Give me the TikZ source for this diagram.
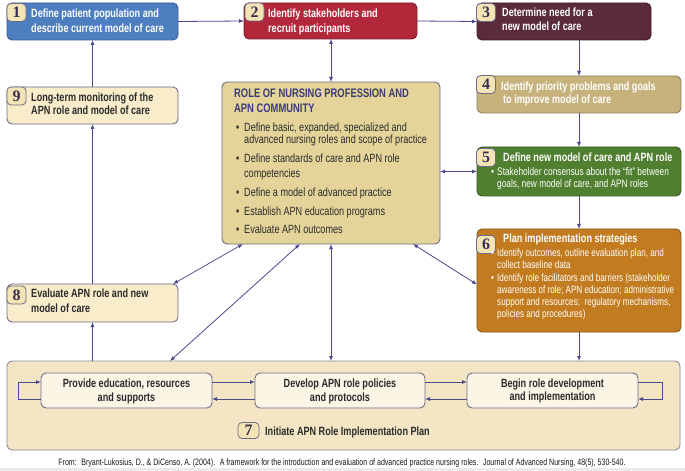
\documentclass[tikz,border=0pt]{standalone}
\usepackage{fontspec}
\setmainfont{Liberation Sans}[FakeStretch=0.76]
\newfontfamily\numfont{Liberation Serif}
\usetikzlibrary{arrows.meta}
\definecolor{cBlue}{HTML}{4D7EBF}
\definecolor{cBlueD}{HTML}{3A5C98}
\definecolor{cRed}{HTML}{B2283A}
\definecolor{cRedD}{HTML}{7E1A28}
\definecolor{cMar}{HTML}{5A2B3B}
\definecolor{cMarD}{HTML}{3E1C28}
\definecolor{cTan}{HTML}{C8B27C}
\definecolor{cTanD}{HTML}{8E7E5A}
\definecolor{cGrn}{HTML}{4F7F2F}
\definecolor{cGrnD}{HTML}{36591F}
\definecolor{cOrg}{HTML}{C27B1F}
\definecolor{cOrgD}{HTML}{8A5614}
\definecolor{cCream}{HTML}{F8ECCB}
\definecolor{cCen}{HTML}{E4D49A}
\definecolor{cBig}{HTML}{F4E6C4}
\definecolor{cInner}{HTML}{FBF5E6}
\definecolor{cEdge}{HTML}{6E6A88}
\definecolor{cArr}{HTML}{4A4A8C}
\definecolor{cBadge}{HTML}{F2E4B4}
\definecolor{cNum}{HTML}{3A2E50}
\definecolor{cTitle}{HTML}{3B3B78}
\definecolor{cTxt}{HTML}{2B2B2B}
\tikzset{
  bx/.style={rounded corners=5bp, line width=0.9bp, inner sep=0pt, outer sep=0pt, anchor=north west},
  nb/.style={rounded corners=4bp, fill=cBadge, draw=cEdge, line width=0.8bp, minimum width=19bp, minimum height=18bp, inner sep=0pt, font=\numfont\bfseries\fontsize{16}{16}\selectfont, text=cNum},
  arr/.style={draw=cArr, line width=0.8bp, -{Latex[length=5bp,width=4bp]}},
  darr/.style={draw=cArr, line width=0.8bp, {Latex[length=5bp,width=4bp]}-{Latex[length=5bp,width=4bp]}},
  wt/.style={anchor=base west, inner sep=0pt, font=\bfseries\fontsize{12}{14}\selectfont, text=white},
  dt/.style={anchor=base west, inner sep=0pt, font=\bfseries\fontsize{12}{14}\selectfont, text=cTxt},
  ct/.style={anchor=base, inner sep=0pt, font=\bfseries\fontsize{12}{14}\selectfont, text=cTxt},
  wb/.style={anchor=base west, inner sep=0pt, font=\fontsize{10.7}{12}\selectfont, text=white},
  cb/.style={anchor=base west, inner sep=0pt, font=\fontsize{12}{14}\selectfont, text=cTxt},
  ttl/.style={anchor=base west, inner sep=0pt, font=\bfseries\fontsize{12.4}{14}\selectfont, text=cTitle},
}
\begin{document}
\begin{tikzpicture}[x=1bp,y=-1bp]
\fill[white] (0,0) rectangle (685,471);
\fill[black!8] (0,468) rectangle (685,471);
\useasboundingbox (0,0) rectangle (685,471);
% boxes
\node[bx, fill=cBlue, draw=cBlueD, minimum width=171bp, minimum height=37bp] (b1) at (7,3) {};
\node[bx, fill=cRed, draw=cRedD, minimum width=173bp, minimum height=36bp] (b2) at (244,3) {};
\node[bx, fill=cMar, draw=cMarD, minimum width=174bp, minimum height=37bp] (b3) at (477,3) {};
\node[bx, fill=cTan, draw=cTanD, minimum width=204bp, minimum height=37bp] (b4) at (477,76) {};
\node[bx, fill=cGrn, draw=cGrnD, minimum width=204bp, minimum height=49bp] (b5) at (477,147) {};
\node[bx, fill=cOrg, draw=cOrgD, minimum width=204bp, minimum height=103bp] (b6) at (477,229) {};
\node[bx, fill=cCream, draw=cEdge, minimum width=171bp, minimum height=37bp] (b9) at (7,87) {};
\node[bx, fill=cCream, draw=cEdge, minimum width=171bp, minimum height=38bp] (b8) at (7,284) {};
\node[bx, fill=cCen, draw=cEdge, minimum width=218bp, minimum height=162bp] (cen) at (222,82) {};
\node[bx, fill=cBig, draw=cEdge!80, minimum width=673bp, minimum height=89bp] (big) at (7,361) {};
\node[bx, fill=cInner, draw=cEdge, minimum width=171bp, minimum height=35bp] (pr) at (41,373) {};
\node[bx, fill=cInner, draw=cEdge, minimum width=170bp, minimum height=35bp] (dv) at (255,373) {};
\node[bx, fill=cInner, draw=cEdge, minimum width=171bp, minimum height=35bp] (bg) at (467,373) {};
% badges
\node[nb] (n1) at (16.5,12.5) {1};
\node[nb] (n2) at (254.5,12) {2};
\node[nb] (n3) at (486,12.5) {3};
\node[nb] (n4) at (486,84.5) {4};
\node[nb] (n5) at (486,157.5) {5};
\node[nb] (n6) at (486,244.5) {6};
\node[nb] (n9) at (16.5,96) {9};
\node[nb] (n8) at (16.5,295) {8};
\node[nb, minimum width=21bp, minimum height=16bp] (n7) at (248.5,430.5) {7};
% texts
\node[wt] (t1a) at (31,18) {Define patient population and};
\node[wt] (t1b) at (31,33) {describe current model of care};
\node[wt] (t2a) at (268,18) {Identify stakeholders and};
\node[wt] (t2b) at (268,33) {recruit participants};
\node[wt] (t3a) at (502,17) {Determine need for a};
\node[wt] (t3b) at (502,31) {new model of care};
\node[wt] (t4a) at (501,91) {Identify priority problems and goals};
\node[wt] (t4b) at (503,104) {to improve model of care};
\node[wt] (t5) at (503,162) {Define new model of care and APN role};
\node[wb, font=\fontsize{11}{12}\selectfont] (t5b) at (491,176) {\textbullet};
\node[wb, font=\fontsize{11}{12}\selectfont] (t5c) at (497,176) {Stakeholder consensus about the “fit” between};
\node[wb, font=\fontsize{11}{12}\selectfont] (t5d) at (497,187.5) {goals, new model of care, and APN roles};
\node[wt] (t6) at (503,243) {Plan implementation strategies};
\node[wb] (t6a) at (491,257) {\textbullet};
\node[wb] (t6b) at (497,257) {Identify outcomes, outline evaluation plan, and};
\node[wb] (t6c) at (497,269) {collect baseline data};
\node[wb] (t6d) at (491,282) {\textbullet};
\node[wb] (t6e) at (497,282) {Identify role facilitators and barriers (stakeholder};
\node[wb] (t6f) at (497,294) {awareness of role; APN education; administrative};
\node[wb] (t6g) at (497,306) {support and resources;~ regulatory mechanisms,};
\node[wb] (t6h) at (497,318) {policies and procedures)};
\node[dt] (t9a) at (31,102) {Long-term monitoring of the};
\node[dt] (t9b) at (31,115) {APN role and model of care};
\node[dt] (t8a) at (31,298) {Evaluate APN role and new};
\node[dt] (t8b) at (31,313) {model of care};
\node[ttl] (tca) at (234,98) {ROLE OF NURSING PROFESSION AND};
\node[ttl] (tcb) at (234,113) {APN COMMUNITY};
\node[cb] (cb1) at (236,132) {\textbullet};
\node[cb] (cc1) at (244,132) {Define basic, expanded, specialized and};
\node[cb] (cc2) at (244,144) {advanced nursing roles and scope of practice};
\node[cb] (cb2) at (236,163) {\textbullet};
\node[cb] (cc3) at (244,163) {Define standards of care and APN role};
\node[cb] (cc4) at (244,178) {competencies};
\node[cb] (cb3) at (236,197) {\textbullet};
\node[cb] (cc5) at (244,197) {Define a model of advanced practice};
\node[cb] (cb4) at (236,216) {\textbullet};
\node[cb] (cc6) at (244,216) {Establish APN education programs};
\node[cb] (cb5) at (236,234) {\textbullet};
\node[cb] (cc7) at (244,234) {Evaluate APN outcomes};
\node[ct] (tpa) at (pr.center |- 0,387) {Provide education, resources};
\node[ct] (tpb) at (pr.center |- 0,401) {and supports};
\node[ct] (tda) at (dv.center |- 0,387) {Develop APN role policies};
\node[ct] (tdb) at (dv.center |- 0,401) {and protocols};
\node[ct] (tba) at (bg.center |- 0,387) {Begin role development};
\node[ct] (tbb) at (bg.center |- 0,400) {and implementation};
\node[dt] (t7) at (265,435) {Initiate APN Role Implementation Plan};
\node[anchor=base, inner sep=0pt, font=\fontsize{9.3}{10}\selectfont, text=black!90] (cap) at (342,465) {From:~ Bryant-Lukosius, D., \& DiCenso, A. (2004).~ A framework for the introduction and evaluation of advanced practice nursing roles.~ Journal of Advanced Nursing, 48(5), 530-540.};
% connectors
\draw[arr] (b1.east) -- (b2.west);
\draw[arr] (b2.east) -- (b3.west);
\draw[arr] (b4.north |- b3.south) -- (b4.north);
\draw[arr] (b4.south) -- (b5.north);
\draw[arr] (b5.south) -- (b6.north);
\draw[arr] (b6.south) -- (b6.south |- big.north);
\draw[darr] (b2.south -| cen.north) -- (cen.north);
\draw[darr] (cen.east |- b5.west) -- (b5.west);
\draw[darr] ([xshift=-27bp]cen.south east) -- ([yshift=-4bp]b6.west);
\draw[darr] ([xshift=21bp]cen.south west) -- ([xshift=-5bp]b8.north east);
\draw[darr] ([xshift=78bp]cen.south west) -- ([xshift=163bp]big.north west);
\draw[darr] (cen.south) -- (cen.south |- big.north);
\draw[arr] (b8.south |- big.north) -- (b8.south);
\draw[arr] (b8.north) -- (b9.south);
\draw[arr] (b9.north) -- (b1.south);
\draw[arr] ([yshift=8.5bp]pr.east) -- ([yshift=8.5bp]dv.west);
\draw[arr] ([yshift=-8.5bp]dv.west) -- ([yshift=-8.5bp]pr.east);
\draw[arr] ([yshift=8.5bp]dv.east) -- ([yshift=8.5bp]bg.west);
\draw[arr] ([yshift=-8.5bp]bg.west) -- ([yshift=-8.5bp]dv.east);
\draw[arr] ([yshift=-8.5bp]pr.west) -- ++(-23,0) |- ([yshift=8.5bp]pr.west);
\draw[arr] ([yshift=8.5bp]bg.east) -- ++(24,0) |- ([yshift=-8.5bp]bg.east);
\end{tikzpicture}
\end{document}
